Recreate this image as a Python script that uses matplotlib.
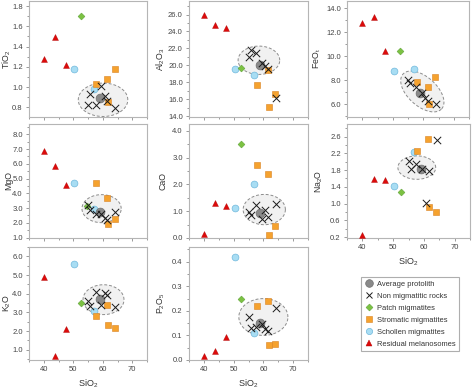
import numpy as np
import matplotlib
matplotlib.use("Agg")
import matplotlib.pyplot as plt
from matplotlib.ticker import MultipleLocator, FormatStrFormatter, AutoMinorLocator
from matplotlib.lines import Line2D

plt.rcParams['font.family'] = ['Liberation Sans', 'DejaVu Sans']
plt.rcParams['mathtext.fontset'] = 'custom'
plt.rcParams['mathtext.rm'] = 'Liberation Sans'
plt.rcParams['mathtext.it'] = 'Liberation Sans'

# ---------------- data ----------------
OXIDES = ['TiO2', 'Al2O3', 'FeOt', 'MgO', 'CaO', 'Na2O', 'K2O', 'P2O5']

# Average protolith
SIO2_AVG = [59.0]
AVG = {'TiO2': [0.89], 'Al2O3': [20.0], 'FeOt': [6.97], 'MgO': [2.73],
       'CaO': [0.94], 'Na2O': [1.83], 'K2O': [3.73], 'P2O5': [0.150]}

# Non migmatitic rocks
SIO2_NONMIG = [55.0, 55.7, 57.6, 59.5, 60.6, 61.6, 64.3]
NONMIG = {'TiO2': [0.82, 0.93, 0.82, 1.01, 0.91, 0.86, 0.79],
          'Al2O3': [21.0, 21.8, 21.4, 20.3, 19.9, 19.6, 16.2],
          'FeOt': [8.0, 7.8, 7.4, 6.9, 6.5, 6.3, 6.0],
          'MgO': [3.2, 2.9, 2.6, 2.6, 2.35, 2.2, 2.75],
          'CaO': [0.96, 0.85, 1.22, 0.72, 1.05, 0.80, 1.28],
          'Na2O': [2.02, 1.82, 1.94, 1.82, 1.02, 1.78, 2.52],
          'K2O': [3.60, 3.35, 4.10, 3.40, 4.05, 3.95, 3.30],
          'P2O5': [0.175, 0.130, 0.135, 0.145, 0.125, 0.120, 0.210]}

# Patch migmatites
SIO2_PATCH = {'TiO2': [52.5], 'Al2O3': [52.5], 'FeOt': [52.5], 'MgO': [54.6],
              'CaO': [52.5], 'Na2O': [52.5], 'K2O': [52.5], 'P2O5': [52.5]}
PATCH = {'TiO2': [1.70], 'Al2O3': [19.7], 'FeOt': [10.42], 'MgO': [3.15],
         'CaO': [3.50], 'Na2O': [1.27], 'K2O': [3.50], 'P2O5': [0.248]}

# Stromatic migmatites
SIO2_STROM = [57.8, 61.4, 61.8, 64.0]
STROM = {'TiO2': [1.03, 1.08, 0.85, 1.18],
         'Al2O3': [17.7, 19.5, 15.1, 16.6],
         'FeOt': [7.87, 7.40, 6.00, 8.29],
         'MgO': [4.71, 3.67, 1.94, 2.25],
         'CaO': [2.73, 2.38, 0.13, 0.44],
         'Na2O': [2.26, 2.55, 0.91, 0.80],
         'K2O': [2.79, 3.38, 2.34, 2.18],
         'P2O5': [0.219, 0.240, 0.060, 0.066]}

# Schollen migmatites
SIO2_SCHOL = [50.3, 56.9]
SCHOL = {'TiO2': [1.18, 0.98], 'Al2O3': [19.6, 18.9], 'FeOt': [8.75, 8.94],
         'MgO': [4.71, 2.91], 'CaO': [1.12, 2.00], 'Na2O': [1.43, 2.22],
         'K2O': [5.60, 3.09], 'P2O5': [0.418, 0.111]}

# Residual melanosomes
SIO2_RESID = [40.0, 43.9, 47.5]
RESID = {'TiO2': [1.28, 1.49, 1.22], 'Al2O3': [25.9, 24.8, 24.4],
         'FeOt': [12.76, 13.23, 10.40], 'MgO': [6.90, 5.88, 4.55],
         'CaO': [0.16, 1.31, 1.21], 'Na2O': [0.26, 1.59, 1.56],
         'K2O': [4.89, 0.68, 2.12], 'P2O5': [0.017, 0.035, 0.095]}

YLABELS = {'TiO2': 'TiO$_2$', 'Al2O3': 'Al$_2$O$_3$', 'FeOt': 'FeO$_t$',
           'MgO': 'MgO', 'CaO': 'CaO', 'Na2O': 'Na$_2$O', 'K2O': 'K$_2$O',
           'P2O5': 'P$_2$O$_5$'}
YLIMS = {'TiO2': (0.705, 1.85), 'Al2O3': (13.9, 27.6), 'FeOt': (4.93, 14.6),
         'MgO': (0.97, 8.7), 'CaO': (0.0, 4.25), 'Na2O': (0.18, 2.9),
         'K2O': (0.45, 6.5), 'P2O5': (0.0, 0.46)}
YSTEP = {'TiO2': 0.2, 'Al2O3': 2.0, 'FeOt': 2.0, 'MgO': 1.0, 'CaO': 1.0,
         'Na2O': 0.4, 'K2O': 1.0, 'P2O5': 0.1}
YSTART = {'TiO2': 0.8, 'Al2O3': 14.0, 'FeOt': 6.0, 'MgO': 1.0, 'CaO': 0.0,
          'Na2O': 0.2, 'K2O': 1.0, 'P2O5': 0.0}

# field of the non migmatitic rocks: centre x, centre y, width, height (data), screen angle
FIELDS = {'TiO2': (60.1, 0.875, 16.8, 0.33, 0),
          'Al2O3': (58.5, 20.6, 14.0, 3.35, 0),
          'FeOt': (59.7, 7.06, None, None, -42),
          'MgO': (59.6, 2.96, 13.3, 1.9, 0),
          'CaO': (60.3, 1.06, 14.2, 1.13, 0),
          'Na2O': (57.7, 1.86, 12.3, 0.56, 0),
          'K2O': (60.25, 3.68, 13.9, 1.6, 0),
          'P2O5': (60.0, 0.175, 16.5, 0.15, 0)}
FEOT_FIELD_PX = (26.0, 14.5)  # semi-axes in pixels for the tilted FeOt field

# ---------------- layout ----------------
W, H = 474, 392
DPI = 100
fig = plt.figure(figsize=(W / DPI, H / DPI), dpi=DPI)

# pixel boxes (left, top, right, bottom)
BOXES = {'TiO2': (29, 1, 147, 117), 'Al2O3': (189, 1, 308, 117),
         'FeOt': (347, 1, 469, 117), 'MgO': (29, 124, 147, 238),
         'CaO': (189, 124, 308, 238), 'Na2O': (347, 124, 470, 238),
         'K2O': (29, 247, 147, 360), 'P2O5': (189, 247, 308, 360)}
# x pixel of the y-label's right edge
YLABEL_X = {'TiO2': 13, 'Al2O3': 167, 'FeOt': 323, 'MgO': 13, 'CaO': 167,
            'Na2O': 325, 'K2O': 13, 'P2O5': 167}
XLIM = (35, 75)

C_RED = '#dd0a0a'
C_ORANGE = '#f5a22e'
C_GREEN = '#7cc242'
C_BLUE = '#a8ddf3'
C_GRAY = '#8a8a8a'

styles = dict(
    avg=dict(marker='o', s=40, c=C_GRAY, edgecolors='#6f6f6f', linewidths=0.5, zorder=5),
    nonmig=dict(marker='x', s=28, c='#1a1a1a', linewidths=0.7, zorder=6),
    patch=dict(marker='D', s=12, c=C_GREEN, edgecolors='#5ea336', linewidths=0.4, zorder=4),
    strom=dict(marker='s', s=17, c=C_ORANGE, edgecolors='#d98222', linewidths=0.4, zorder=4),
    schol=dict(marker='o', s=24, c=C_BLUE, edgecolors='#6fb8dc', linewidths=0.5, zorder=4),
    resid=dict(marker='^', s=18, c=C_RED, edgecolors='#b00000', linewidths=0.3, zorder=4),
)

for ox in OXIDES:
    l, t, r, b = BOXES[ox]
    ax = fig.add_axes([l / W, 1 - b / H, (r - l) / W, (b - t) / H])
    ax.set_xlim(*XLIM)
    ax.set_ylim(*YLIMS[ox])
    for sp in ax.spines.values():
        sp.set_color('#b5b5b5')
        sp.set_linewidth(0.8)
    ax.xaxis.set_major_locator(MultipleLocator(10))
    ax.xaxis.set_minor_locator(MultipleLocator(5))
    y0, y1 = YLIMS[ox]
    ticks = np.arange(YSTART[ox], y1 + 1e-9, YSTEP[ox])
    ax.set_yticks(ticks)
    ax.yaxis.set_major_formatter(FormatStrFormatter('%.1f'))
    ax.yaxis.set_minor_locator(AutoMinorLocator(2))
    ax.tick_params(which='both', direction='out', colors='#8a8a8a',
                   labelcolor='#444444', labelsize=5.5, width=0.6, pad=2)
    ax.tick_params(which='major', length=2.5)
    ax.tick_params(which='minor', length=1.5)
    ax.set_ylabel(YLABELS[ox], fontsize=6.3, color='#333333')
    ax.yaxis.set_label_coords((YLABEL_X[ox] - l) / (r - l), 0.5)
    if ox in ('Na2O', 'K2O', 'P2O5'):
        ax.set_xlabel('SiO$_2$', fontsize=6.5, color='#333333', labelpad=3)
    else:
        ax.tick_params(axis='x', labelbottom=False)

    # field ellipse
    cx, cy, fw, fh, ang = FIELDS[ox]
    sx = (r - l) / (XLIM[1] - XLIM[0])
    sy = (b - t) / (y1 - y0)
    tt = np.linspace(0, 2 * np.pi, 200)
    if fw is None:
        a, bb = FEOT_FIELD_PX
    else:
        a, bb = fw / 2 * sx, fh / 2 * sy
    th = np.deg2rad(ang)
    px = a * np.cos(tt) * np.cos(th) - bb * np.sin(tt) * np.sin(th)
    py = a * np.cos(tt) * np.sin(th) + bb * np.sin(tt) * np.cos(th)
    ex = cx + px / sx
    ey = cy + py / sy
    ax.fill(ex, ey, facecolor='#f1f1f1', edgecolor='none', zorder=1)
    ax.plot(ex, ey, color='#8c8c8c', lw=0.7, ls=(0, (3, 2)), zorder=2)

    ax.scatter(SIO2_RESID, RESID[ox], **styles['resid'])
    ax.scatter(SIO2_SCHOL, SCHOL[ox], **styles['schol'])
    ax.scatter(SIO2_PATCH[ox], PATCH[ox], **styles['patch'])
    ax.scatter(SIO2_STROM, STROM[ox], **styles['strom'])
    ax.scatter(SIO2_AVG, AVG[ox], **styles['avg'])
    ax.scatter(SIO2_NONMIG, NONMIG[ox], **styles['nonmig'])

# legend
handles = [
    Line2D([], [], ls='none', marker='o', ms=5.5, mfc=C_GRAY, mec='#6f6f6f', mew=0.5),
    Line2D([], [], ls='none', marker='x', ms=5, color='#1a1a1a', mew=0.7),
    Line2D([], [], ls='none', marker='D', ms=3.5, mfc=C_GREEN, mec='#5ea336', mew=0.4),
    Line2D([], [], ls='none', marker='s', ms=4, mfc=C_ORANGE, mec='#d98222', mew=0.4),
    Line2D([], [], ls='none', marker='o', ms=4.5, mfc=C_BLUE, mec='#6fb8dc', mew=0.5),
    Line2D([], [], ls='none', marker='^', ms=4.5, mfc=C_RED, mec='#b00000', mew=0.3),
]
labels = ['Average protolith', 'Non migmatitic rocks', 'Patch migmatites',
          'Stromatic migmatites', 'Schollen migmatites', 'Residual melanosomes']
leg = fig.legend(handles, labels, loc='upper left',
                 bbox_to_anchor=(361 / W, 1 - 277 / H), fontsize=5.4,
                 frameon=True, fancybox=False, edgecolor='#9a9a9a',
                 handlelength=1.0, handletextpad=0.6, labelspacing=0.62,
                 borderpad=0.5, borderaxespad=0)
leg.get_frame().set_linewidth(0.8)
for txt in leg.get_texts():
    txt.set_color('#333333')

fig.savefig('out.png', dpi=DPI)
